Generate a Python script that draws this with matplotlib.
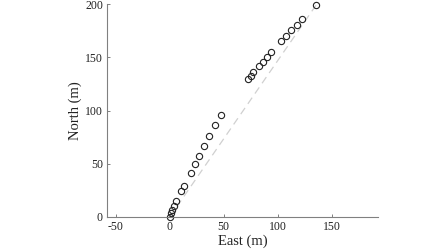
import matplotlib
matplotlib.use("Agg")
import matplotlib.pyplot as plt

east = [0, 1.25, 2.5, 4.1, 5.6, 10.3, 13.4, 20.0, 23.4, 27.5, 31.3, 36.3, 42.2, 47.5,
        72.4, 74.9, 76.7, 82.3, 86.0, 89.7, 93.4, 102.7, 107.3, 112.6, 117.5, 122.8, 135.4]
north = [0, 3.4, 6.6, 10.3, 15.0, 24.0, 29.0, 41.6, 49.4, 57.5, 66.6, 76.3, 86.3, 95.6,
         129.9, 132.4, 135.9, 142.1, 145.5, 150.5, 154.8, 165.5, 170.2, 175.6, 180.6, 186.2, 198.8]
xticks = [-50, 0, 50, 100, 150]
yticks = [0, 50, 100, 150, 200]

plt.rcParams['font.family'] = ['Liberation Serif', 'DejaVu Serif']
plt.rcParams['axes.unicode_minus'] = False
fig = plt.figure(figsize=(4.48, 2.52), dpi=100)
ax = fig.add_axes([0.239, 0.139, 0.605, 0.845])

ax.plot([east[0], east[-1]], [north[0], north[-1]], linestyle=(0, (6, 4)),
        color='#d0d0d0', linewidth=0.9, zorder=1)
ax.plot(east, north, linestyle='none', marker='o', markersize=4.5,
        markerfacecolor='none', markeredgecolor='#222222', markeredgewidth=0.8,
        zorder=2, clip_on=False)

ax.set_xlim(-58, 193)
ax.set_ylim(0, 200)
ax.set_xticks(xticks)
ax.set_yticks(yticks)
for s in ['top', 'right']:
    ax.spines[s].set_visible(False)
for s in ['left', 'bottom']:
    ax.spines[s].set_color('#808080')
    ax.spines[s].set_linewidth(0.8)
ax.tick_params(direction='in', length=2.5, width=0.7, color='#808080',
               labelsize=8.5, labelcolor='#222222', pad=3)
ax.set_xlabel('East (m)', fontsize=10.5, color='#222222', labelpad=1)
ax.set_ylabel('North (m)', fontsize=10.5, color='#222222', labelpad=2)

fig.savefig('out.png', dpi=100)
